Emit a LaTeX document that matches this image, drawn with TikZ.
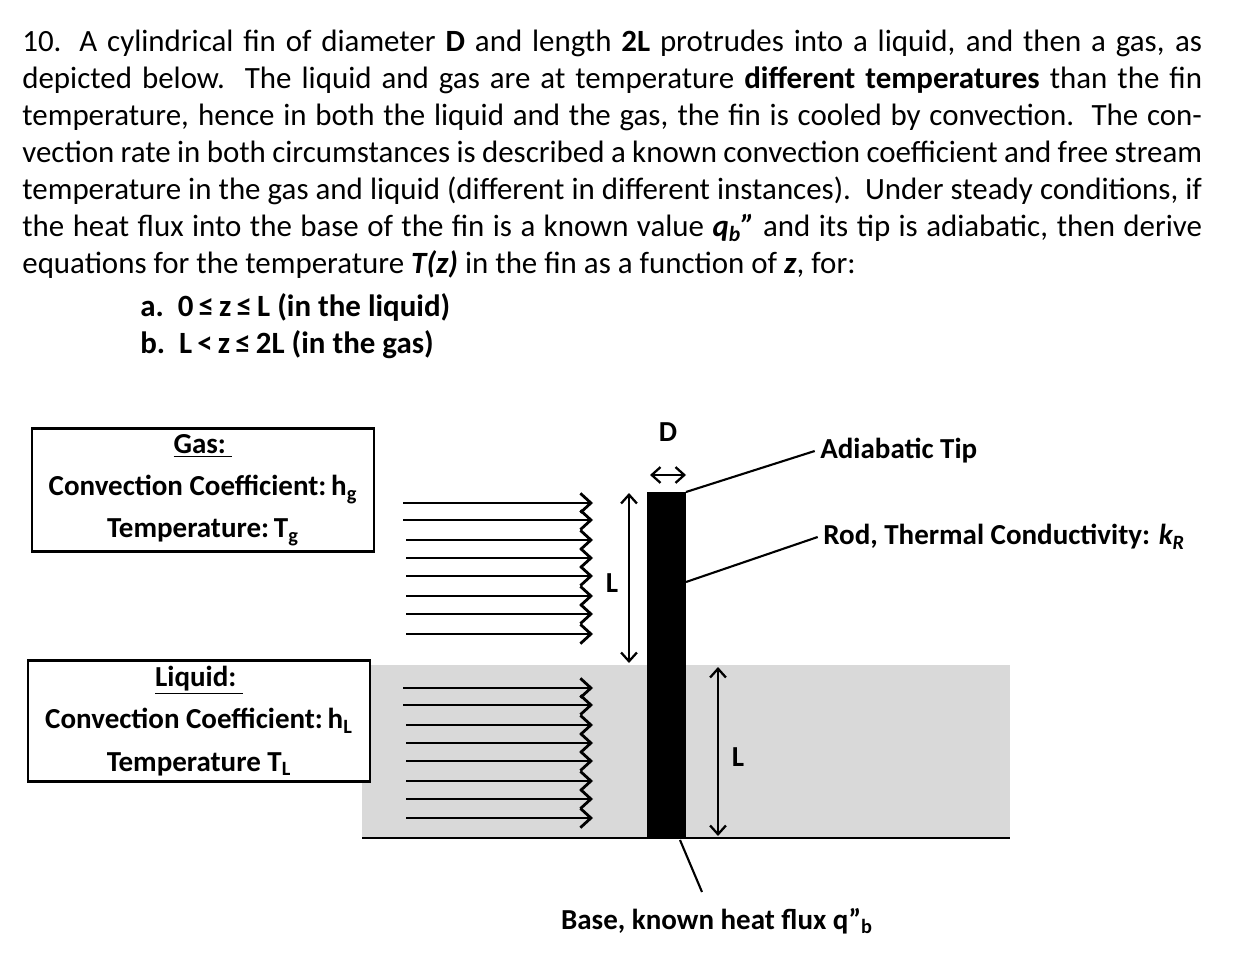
\documentclass[tikz,border=0pt]{standalone}
\usepackage{fontspec}
\setmainfont{Carlito}
\usetikzlibrary{arrows.meta}
\begin{document}
\begin{tikzpicture}[x=0.02cm,y=-0.02cm,
  flow/.style={line width=1.6pt,-{Straight Barb[length=6pt,width=11pt]}},
  dim/.style={line width=1.3pt,{Straight Barb[length=5pt,width=9pt]}-{Straight Barb[length=5pt,width=9pt]}},
  lead/.style={line width=1.2pt},
  lbl/.style={font=\fontsize{16.5}{18}\selectfont\bfseries,inner sep=0pt},
  infobox/.style={draw,line width=1.2pt,minimum width=342*0.02cm,minimum height=119*0.02cm,align=center,font=\fontsize{16.5}{20}\selectfont\bfseries}]
\useasboundingbox (0,0) rectangle (1242,980);
\node[anchor=north west,inner sep=0pt,text width=23.6cm,align=justify,font=\fontsize{17.6}{21}\selectfont] (body) at (22,30)
{10. A cylindrical fin of diameter \textbf{D} and length \textbf{2L} protrudes into a liquid, and then a gas, as depicted below.\ \ The liquid and gas are at temperature \textbf{different temperatures} than the fin temperature, hence in both the liquid and the gas, the fin is cooled by convection.\ \ The convection rate in both circumstances is described a known convection coefficient and free stream temperature in the gas and liquid (different in different instances).\ \ Under steady conditions, if the heat flux into the base of the fin is a known value \textbf{\textit{q\textsubscript{b}}}\textbf{\textit{''}} and its tip is adiabatic, then derive equations for the temperature \textbf{\textit{T(z)}}\ in the fin as a function of \textbf{\textit{z}}, for:\par};
\node[anchor=west,lbl,font=\fontsize{17.6}{20}\selectfont\bfseries] (ia) at (140,307) {a.\ \ 0\,≤\,z\,≤\,L (in the liquid)};
\node[anchor=west,lbl,font=\fontsize{17.6}{20}\selectfont\bfseries] (ib) at (140,345) {b.\ \ L\,<\,z\,≤\,2L (in the gas)};
% liquid region
\fill[gray!30] (362,665) rectangle (1010,838);
\draw[line width=1.6pt] (362,838) -- (1010,838);
% fin
\fill (647,492) rectangle (686,838);
\coordinate (fintop) at (686,492);
\coordinate (finmid) at (686,582);
\coordinate (finbase) at (680,840);
% flow arrows
\foreach \y/\xs in {503/403,520/403,540/406,558/406,576/406,596/406,614/406,634/406}
  \draw[flow] (\xs,\y) -- (593,\y);
\foreach \y/\xs in {688/403,705/403,725/406,743/406,761/406,781/406,799/406,818/406}
  \draw[flow] (\xs,\y) -- (593,\y);
% dimensions
\coordinate (la) at (629,493); \coordinate (lb) at (629,663);
\draw[dim] (la) -- (lb);
\node[lbl] (Lg) at (612,583) {L};
\coordinate (lc) at (718,667); \coordinate (ld) at (718,836);
\draw[dim] (lc) -- (ld);
\node[lbl] (Ll) at (738,757) {L};
\coordinate (da) at (650,475); \coordinate (db) at (686,475);
\draw[dim] (da) -- (db);
\node[lbl] (Dl) at (668,432) {D};
% labels
\node[lbl,anchor=west] (tip) at (820,451) {Adiabatic Tip};
\node[lbl,anchor=west] (rod) at (823,537) {Rod, Thermal Conductivity: \textit{k\textsubscript{R}}};
\node[lbl] (base) at (717,921) {Base, known heat flux q''\textsubscript{b}};
\draw[lead] (fintop) -- ([xshift=-3pt]tip.west);
\draw[lead] (finmid) -- ([xshift=-3pt]rod.west);
\draw[lead] (finbase) -- (702,892);
% boxes
\node[infobox,fill=white] (gas) at (203,490) {\underline{Gas:\ }\\[4pt]Convection Coefficient:\,h\textsubscript{g}\\[4pt]Temperature:\,T\textsubscript{g}};
\node[infobox,fill=white] (liq) at (199,721) {\underline{Liquid:\ }\\[4pt]Convection Coefficient:\,h\textsubscript{L}\\[4pt]Temperature T\textsubscript{L}};
\end{tikzpicture}
\end{document}
